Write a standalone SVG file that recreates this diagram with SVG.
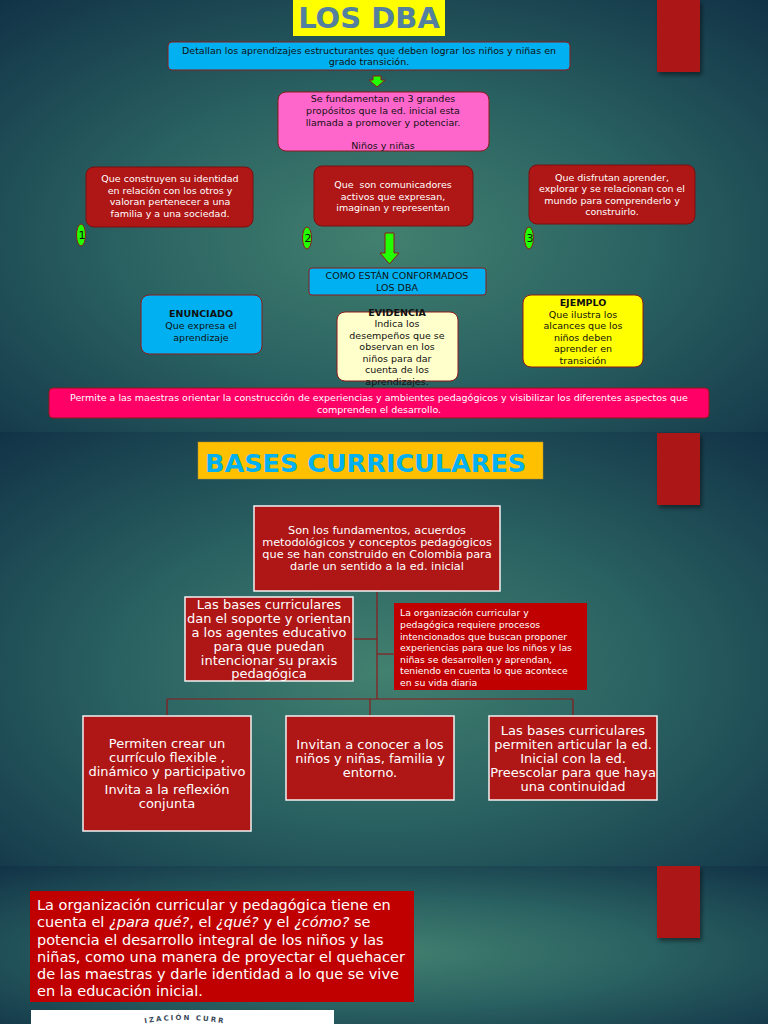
<svg xmlns="http://www.w3.org/2000/svg" width="768" height="1024" viewBox="0 0 768 1024">
<defs>
<radialGradient id="bg" cx="0.5" cy="0.55" r="0.75">
<stop offset="0" stop-color="#42806f"/>
<stop offset="0.45" stop-color="#2a6262"/>
<stop offset="1" stop-color="#113246"/>
</radialGradient>
<filter id="sh" x="-20%" y="-20%" width="150%" height="150%">
<feDropShadow dx="2" dy="3" stdDeviation="2" flood-color="#000" flood-opacity="0.45"/>
</filter>
<path id="arc" d="M110,1032 Q183,1008 260,1032"/>
</defs>
<style>
text{font-family:"DejaVu Sans","Liberation Sans",sans-serif}
.s{font-size:9.5px;text-anchor:middle}
.w{fill:#fff}
.k{fill:#111}
.b{font-weight:bold}
.rr{fill:#af1616;stroke:#7a1010;stroke-width:1}
.wb{fill:#af1616;stroke:#f2f2f2;stroke-width:1.5}
.m{font-size:13px;text-anchor:middle;fill:#fff}
.m2{font-size:11.3px;text-anchor:middle;fill:#fff}
.tab{fill:#ad1616}
.ln{stroke:#8b1a1a;stroke-width:1.2;fill:none}
.g{fill:#22ff00;stroke:#8b1a1a;stroke-width:1}
</style>
<rect x="0" y="0" width="768" height="432" fill="url(#bg)"/>
<rect x="0" y="432" width="768" height="434" fill="url(#bg)"/>
<rect x="0" y="866" width="768" height="158" fill="url(#bg)"/>
<rect class="tab" x="657" y="0" width="43" height="72" filter="url(#sh)"/>
<rect class="tab" x="657" y="433" width="43" height="72" filter="url(#sh)"/>
<rect class="tab" x="657" y="866" width="43" height="72" filter="url(#sh)"/>

<g id="title1">
<rect x="293" y="0" width="152" height="36" fill="#ffff00"/>
<text x="369" y="28" font-size="29" font-weight="bold" fill="#54809f" text-anchor="middle">LOS DBA</text>
</g>

<g id="connectors">
<path class="g" d="M373,76 h8 v4 h4 l-8,7 l-8,-7 h4 z"/>
<path class="g" d="M385,233 h9 v20 h5 l-9.5,11 l-9.5,-11 h5 z"/>
<line class="ln" x1="377" y1="591" x2="377" y2="699"/>
<line class="ln" x1="353" y1="639" x2="377" y2="639"/>
<line class="ln" x1="377" y1="654" x2="394" y2="654"/>
<line class="ln" x1="167" y1="699" x2="573" y2="699"/>
<line class="ln" x1="167" y1="699" x2="167" y2="716"/>
<line class="ln" x1="370" y1="699" x2="370" y2="716"/>
<line class="ln" x1="573" y1="699" x2="573" y2="716"/>
</g>

<g id="n-detallan">
<rect x="168" y="42" width="402" height="28" rx="4" fill="#00b0f0" stroke="#8b1a1a"/>
<text class="s k" x="369" y="53.5">Detallan los aprendizajes estructurantes que deben lograr los niños y niñas en</text>
<text class="s k" x="369" y="65">grado transición.</text>
</g>

<g id="n-fundamentan">
<rect x="278" y="92" width="211" height="59" rx="8" fill="#ff66cc" stroke="#8b1a1a"/>
<text class="s k" x="383" y="102">Se fundamentan en 3 grandes</text>
<text class="s k" x="383" y="114">propósitos que la ed. inicial esta</text>
<text class="s k" x="383" y="125.5">llamada a promover y potenciar.</text>
<text class="s k" x="383" y="148.5">Niños y niñas</text>
</g>

<g id="n-identidad">
<rect class="rr" x="86" y="167" width="167" height="60" rx="8"/>
<text class="s w" x="170" y="182">Que construyen su identidad</text>
<text class="s w" x="170" y="193.5">en relación con los otros y</text>
<text class="s w" x="170" y="205">valoran pertenecer a una</text>
<text class="s w" x="170" y="216.5">familia y a una sociedad.</text>
</g>

<g id="n-comunicadores">
<rect class="rr" x="314" y="166" width="159" height="60" rx="8"/>
<text class="s w" x="393" y="188" xml:space="preserve">Que  son comunicadores</text>
<text class="s w" x="393" y="199.5">activos que expresan,</text>
<text class="s w" x="393" y="211">imaginan y representan</text>
</g>

<g id="n-disfrutan">
<rect class="rr" x="529" y="165" width="166" height="59" rx="8"/>
<text class="s w" x="612" y="180.5">Que disfrutan aprender,</text>
<text class="s w" x="612" y="192">explorar y se relacionan con el</text>
<text class="s w" x="612" y="203.5">mundo para comprenderlo y</text>
<text class="s w" x="612" y="215">construirlo.</text>
</g>

<g id="n-num1">
<ellipse cx="81" cy="235" rx="4.5" ry="11" fill="#22ff00" stroke="#8b1a1a"/>
<text x="82" y="239" font-size="11" fill="#111" text-anchor="middle">1</text>
</g>
<g id="n-num2">
<ellipse cx="307" cy="238" rx="4.5" ry="11" fill="#22ff00" stroke="#8b1a1a"/>
<text x="308" y="242" font-size="11" fill="#111" text-anchor="middle">2</text>
</g>
<g id="n-num3">
<ellipse cx="529" cy="238" rx="4.5" ry="11" fill="#22ff00" stroke="#8b1a1a"/>
<text x="530" y="242" font-size="11" fill="#111" text-anchor="middle">3</text>
</g>

<g id="n-como">
<rect x="309" y="268" width="177" height="27" rx="3" fill="#00b0f0" stroke="#8b1a1a"/>
<text class="s k" x="397" y="279">COMO ESTÁN CONFORMADOS</text>
<text class="s k" x="397" y="290.5">LOS DBA</text>
</g>

<g id="n-enunciado">
<rect x="141" y="295" width="121" height="59" rx="8" fill="#00b0f0" stroke="#8b1a1a"/>
<text class="s k b" x="201" y="317">ENUNCIADO</text>
<text class="s k" x="201" y="329">Que expresa el</text>
<text class="s k" x="201" y="340.5">aprendizaje</text>
</g>

<g id="n-evidencia">
<rect x="337" y="312" width="121" height="69" rx="8" fill="#ffffcc" stroke="#8b1a1a"/>
<text class="s k b" x="397" y="316">EVIDENCIA</text>
<text class="s k" x="397" y="327">Indica los</text>
<text class="s k" x="397" y="338.5">desempeños que se</text>
<text class="s k" x="397" y="350">observan en los</text>
<text class="s k" x="397" y="361.5">niños para dar</text>
<text class="s k" x="397" y="373">cuenta de los</text>
<text class="s k" x="397" y="384.5">aprendizajes.</text>
</g>

<g id="n-ejemplo">
<rect x="523" y="295" width="120" height="72" rx="8" fill="#ffff00" stroke="#8b1a1a"/>
<text class="s k b" x="583" y="306">EJEMPLO</text>
<text class="s k" x="583" y="317.5">Que ilustra los</text>
<text class="s k" x="583" y="329">alcances que los</text>
<text class="s k" x="583" y="340.5">niños deben</text>
<text class="s k" x="583" y="352">aprender en</text>
<text class="s k" x="583" y="363.5">transición</text>
</g>

<g id="n-permite">
<rect x="49" y="388" width="660" height="30" rx="4" fill="#ff0066" stroke="#8b1a1a"/>
<text class="s w" x="379" y="401">Permite a las maestras orientar la construcción de experiencias y ambientes pedagógicos y visibilizar los diferentes aspectos que</text>
<text class="s w" x="379" y="413">comprenden el desarrollo.</text>
</g>

<g id="title2">
<rect x="198" y="442" width="345" height="37" fill="#ffc000" stroke="#b09030" stroke-width="0.5"/>
<text x="205" y="472" font-size="25.5" font-weight="bold" fill="#00b0f0">BASES CURRICULARES</text>
</g>

<g id="n-fundamentos">
<rect class="wb" x="254" y="506" width="246" height="85"/>
<text class="m2" x="377" y="534">Son los fundamentos, acuerdos</text>
<text class="m2" x="377" y="546">metodológicos y conceptos pedagógicos</text>
<text class="m2" x="377" y="558">que se han construido en Colombia para</text>
<text class="m2" x="377" y="570">darle un sentido a la ed. inicial</text>
</g>

<g id="n-soporte">
<rect class="wb" x="185" y="597" width="168" height="84"/>
<text class="m" x="269" y="609">Las bases curriculares</text>
<text class="m" x="269" y="623">dan el soporte y orientan</text>
<text class="m" x="269" y="637">a los agentes educativo</text>
<text class="m" x="269" y="651">para que puedan</text>
<text class="m" x="269" y="665">intencionar su praxis</text>
<text class="m" x="269" y="678">pedagógica</text>
</g>

<g id="n-organizacion">
<rect x="394" y="603" width="193" height="87" fill="#c00000"/>
<text class="w" font-size="9.3" x="400" y="616">La organización curricular y</text>
<text class="w" font-size="9.3" x="400" y="628">pedagógica requiere procesos</text>
<text class="w" font-size="9.3" x="400" y="639.5">intencionados que buscan proponer</text>
<text class="w" font-size="9.3" x="400" y="651">experiencias para que los niños y las</text>
<text class="w" font-size="9.3" x="400" y="662.5">niñas se desarrollen y aprendan,</text>
<text class="w" font-size="9.3" x="400" y="674">teniendo en cuenta lo que acontece</text>
<text class="w" font-size="9.3" x="400" y="685.5">en su vida diaria</text>
</g>

<g id="n-flexible">
<rect class="wb" x="83" y="716" width="168" height="115"/>
<text class="m" x="167" y="748">Permiten crear un</text>
<text class="m" x="167" y="762">currículo flexible ,</text>
<text class="m" x="167" y="776">dinámico y participativo</text>
<text class="m" x="167" y="794">Invita a la reflexión</text>
<text class="m" x="167" y="808">conjunta</text>
</g>

<g id="n-invitan">
<rect class="wb" x="286" y="716" width="168" height="84"/>
<text class="m" x="370" y="749">Invitan a conocer a los</text>
<text class="m" x="370" y="763">niños y niñas, familia y</text>
<text class="m" x="370" y="777">entorno.</text>
</g>

<g id="n-articular">
<rect class="wb" x="489" y="716" width="168" height="84"/>
<text class="m" x="573" y="735">Las bases curriculares</text>
<text class="m" x="573" y="749">permiten articular la ed.</text>
<text class="m" x="573" y="763">Inicial con la ed.</text>
<text class="m" x="573" y="777">Preescolar para que haya</text>
<text class="m" x="573" y="791">una continuidad</text>
</g>

<g id="n-bottom">
<rect x="30" y="891" width="384" height="111" fill="#c00000"/>
<g class="w" font-size="14.5">
<text x="37" y="910">La organización curricular y pedagógica tiene en</text>
<text x="37" y="927">cuenta el <tspan font-style="italic">¿para qué?</tspan>, el <tspan font-style="italic">¿qué?</tspan> y el <tspan font-style="italic">¿cómo?</tspan> se</text>
<text x="37" y="945">potencia el desarrollo integral de los niños y las</text>
<text x="37" y="962">niñas, como una manera de proyectar el quehacer</text>
<text x="37" y="979">de las maestras y darle identidad a lo que se vive</text>
<text x="37" y="996">en la educación inicial.</text>
</g>
</g>

<g id="n-image">
<rect x="31" y="1010" width="303" height="14" fill="#ffffff"/>
<text font-size="7" font-weight="bold" fill="#3a4a5a" letter-spacing="2"><textPath href="#arc" startOffset="50%" text-anchor="middle">IZACIÓN CURR</textPath></text>
</g>
</svg>
